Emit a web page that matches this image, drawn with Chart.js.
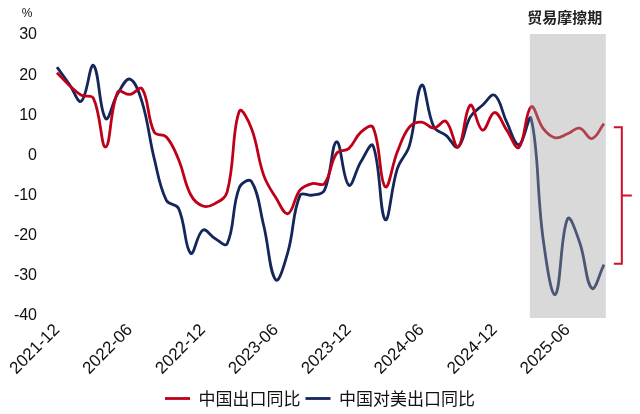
<!DOCTYPE html>
<html><head><meta charset="utf-8">
<script src="https://cdn.jsdelivr.net/npm/chart.js@4.4.1/dist/chart.umd.min.js"></script>
<style>html,body{margin:0;padding:0;background:#fff;}#wrap{width:640px;height:414px;}</style>
</head><body><div id="wrap"><canvas id="c" width="640" height="414"></canvas></div>
<script>
const months = ['2021-12','2022-01','2022-02','2022-03','2022-04','2022-05','2022-06','2022-07','2022-08','2022-09','2022-10','2022-11',
  '2022-12','2023-01','2023-02','2023-03','2023-04','2023-05','2023-06','2023-07','2023-08','2023-09','2023-10','2023-11',
  '2023-12','2024-01','2024-02','2024-03','2024-04','2024-05','2024-06','2024-07','2024-08','2024-09','2024-10','2024-11',
  '2024-12','2025-01','2025-02','2025-03','2025-04','2025-05','2025-06','2025-07','2025-08','2025-09'];
const chinaExports = [20.6,17.5,15.0,14.2,2.1,15.8,15.2,16.6,5.8,4.6,-1.0,-9.8,
  -12.6,-12.0,-9.1,11.0,6.7,-4.9,-10.5,-14.5,-8.6,-7.0,-7.0,0.5,
  1.7,5.8,7.0,-7.8,0.9,7.1,8.3,6.8,8.5,2.1,12.5,6.3,
  10.7,6.3,2.0,12.1,6.7,4.4,5.4,6.8,4.2,7.9];
const chinaExportsToUS = [22.0,17.8,13.5,22.4,9.2,15.4,19.0,13.3,-0.8,-11.2,-13.2,-24.4,
  -18.6,-20.7,-22.0,-8.0,-6.5,-17.4,-31.0,-24.0,-9.9,-9.9,-8.7,3.4,
  -7.4,-1.6,2.4,-16.0,-3.3,2.5,17.5,7.1,5.0,2.1,9.6,12.5,
  15.0,8.3,2.7,9.2,-21.0,-34.6,-15.8,-21.7,-33.1,-27.2];
const xTickLabels = ['2021-12','2022-06','2022-12','2023-06','2023-12','2024-06','2024-12','2025-06'];
const yMin = -40, yMax = 30, yStep = 10;
const seriesNames = ['中国出口同比','中国对美出口同比'];
const shadeStart = '2025-03', shadeEnd = '2025-09';
const shadeLabel = '贸易摩擦期';
const bracketTop = 7, bracketBottom = -27;
const unitLabel = '%';

const RED = '#BE0019', BLUE = '#14265A';

const overlay = {
  id: 'overlay',
  afterDatasetsDraw(chart) {
    const {ctx, scales: {x, y}} = chart;
    const i0 = months.indexOf(shadeStart), i1 = months.indexOf(shadeEnd);
    const step = x.getPixelForValue(1) - x.getPixelForValue(0);
    const left = x.getPixelForValue(i0) - 0.1 * step;
    const right = x.getPixelForValue(i1) + 0.15 * step;
    const top = y.getPixelForValue(yMax) - 1;
    const bottom = y.getPixelForValue(yMin) + 2;
    ctx.save();
    ctx.fillStyle = 'rgba(160,160,160,0.4)';
    ctx.fillRect(left, top, right - left, bottom - top);
    ctx.fillStyle = '#222';
    ctx.font = 'bold 15px "Noto Sans CJK SC"';
    ctx.textAlign = 'center';
    ctx.textBaseline = 'middle';
    ctx.fillText(shadeLabel, (left + right) / 2 - 3, 17);
    ctx.font = '12px "Liberation Sans"';
    ctx.fillStyle = '#111';
    ctx.fillText(unitLabel, 27, 14);
    const bt = y.getPixelForValue(bracketTop), bb = y.getPixelForValue(bracketBottom);
    const bx = right + 16;
    ctx.strokeStyle = '#D0102A';
    ctx.lineWidth = 2;
    ctx.beginPath();
    ctx.moveTo(bx - 8, bt); ctx.lineTo(bx, bt); ctx.lineTo(bx, bb); ctx.lineTo(bx - 8, bb);
    ctx.moveTo(bx, (bt + bb) / 2); ctx.lineTo(bx + 10, (bt + bb) / 2);
    ctx.stroke();
    ctx.restore();
  }
};

new Chart(document.getElementById('c'), {
  type: 'line',
  data: {
    labels: months,
    datasets: [
      {label: seriesNames[0], data: chinaExports, borderColor: RED, backgroundColor: RED, borderWidth: 2.8, pointRadius: 0, pointStyle: 'line', tension: 0.4},
      {label: seriesNames[1], data: chinaExportsToUS, borderColor: BLUE, backgroundColor: BLUE, borderWidth: 2.8, pointRadius: 0, pointStyle: 'line', tension: 0.4}
    ]
  },
  options: {
    responsive: false,
    animation: false,
    devicePixelRatio: 1,
    layout: {padding: {top: 35, left: 0, right: 0, bottom: -3}},
    plugins: {
      tooltip: {enabled: false},
      legend: {
        position: 'bottom',
        labels: {
          usePointStyle: true, pointStyle: 'line', pointStyleWidth: 25,
          font: {family: '"Noto Sans CJK SC"', size: 17, lineHeight: 1}, color: '#111', padding: 5, boxHeight: 17
        }
      }
    },
    scales: {
      x: {
        grid: {display: false, drawTicks: false},
        border: {display: false},
        ticks: {
          autoSkip: false, maxRotation: 45, minRotation: 45, padding: 4,
          font: {family: '"Liberation Sans"', size: 17}, color: '#111',
          callback: function(v, i) { return xTickLabels.includes(months[i]) ? months[i] : ''; }
        },
        afterFit: s => { s.height = 69; }
      },
      y: {
        min: yMin, max: yMax,
        grid: {display: false, drawTicks: false},
        border: {display: false},
        ticks: {stepSize: yStep, padding: 20, font: {family: '"Liberation Sans"', size: 16}, color: '#111'},
        afterFit: s => { s.width = 57; }
      },
      y2: {
        position: 'right', display: true,
        grid: {display: false, drawTicks: false},
        border: {display: false},
        ticks: {display: false},
        afterFit: s => { s.width = 36; }
      }
    }
  },
  plugins: [overlay]
});
</script></body></html>
